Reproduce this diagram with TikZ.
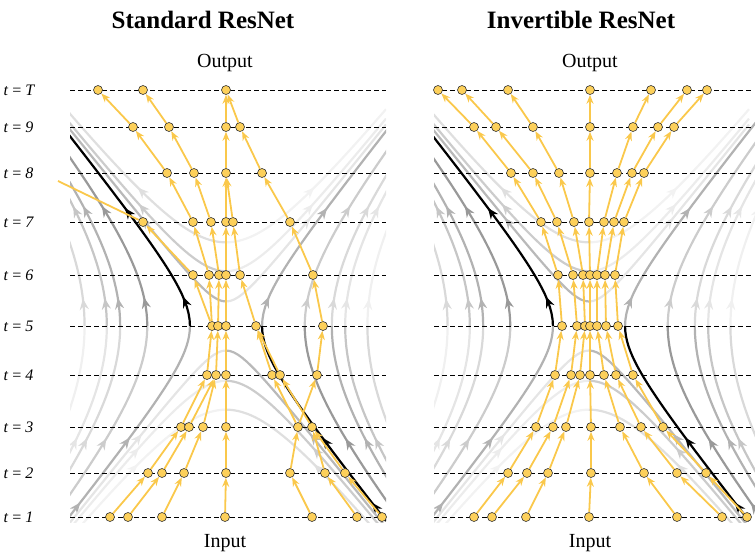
\documentclass[tikz,border=0pt]{standalone}
\usepackage{fontspec}
\setmainfont{Liberation Serif}
\usetikzlibrary{arrows.meta,decorations.markings}
\definecolor{gold}{RGB}{250,200,75}
\definecolor{goldfill}{RGB}{253,208,90}
\begin{document}
\begin{tikzpicture}[
    x=1pt, y=-1pt,
    pt/.style={circle, draw=black!80, fill=goldfill, line width=0.6pt, minimum size=9pt, inner sep=0pt},
    flow/.style={draw=gold, line width=1.8pt, -{Stealth[length=9pt,width=7pt]}},
    row/.style={black, dashed, dash pattern=on 5pt off 3pt, line width=0.7pt},
    stream/.style={draw=#1, line width=2.2pt, postaction={decorate},
        decoration={markings,
            mark=at position 0.55 with {\arrowreversed{Stealth[length=11pt,width=9pt,color=#1]}},
            mark=at position 0.9 with {\arrowreversed{Stealth[length=11pt,width=9pt,color=#1]}}}},
    streamf/.style={draw=#1, line width=2.2pt, postaction={decorate},
        decoration={markings,
            mark=at position 0.5 with {\arrow{Stealth[length=11pt,width=9pt,color=#1]}}}},
    lab/.style={font=\fontsize{16}{16}\selectfont, anchor=west},
    title/.style={font=\fontsize{25}{25}\selectfont\bfseries},
    io/.style={font=\fontsize{20}{20}\selectfont}
]
\useasboundingbox (0,0) rectangle (755,558);

% streamlines, same field in both panels
\foreach \dx/\xa/\xb in {0/70/386, 363/71/392} {
  \begin{scope}[xshift=\dx]
    \clip (\xa,78) rectangle (\xb,522);
    \foreach \c/\col/\fade in {13/black/gray!60, 62/gray!80/gray!40, 112/gray!60/gray!30, 142/gray!45/gray!20, 200/gray!30/gray!12} {
      % left branch: dark above, fading below
      \draw[stream=\col] plot[domain=-25:0, samples=40]
        ({226-10*sqrt(0.64*\x*\x+\c)}, {326+10*\x});
      \draw[stream=\fade] plot[domain=0:19.5, samples=40]
        ({226-10*sqrt(0.64*\x*\x+\c)}, {326+10*\x});
      % right branch: fading above, dark below
      \draw[stream=\fade] plot[domain=-25:0, samples=40]
        ({226+10*sqrt(0.64*\x*\x+\c)}, {326+10*\x});
      \draw[stream=\col] plot[domain=0:19.5, samples=40]
        ({226+10*sqrt(0.64*\x*\x+\c)}, {326+10*\x});
    }
    \foreach \c/\col/\fade in {6/gray!55/gray!20, 30/gray!40/gray!15, 70/gray!25/gray!10} {
      \draw[streamf=\col] plot[domain=0:-16, samples=40] ({226+10*\x}, {326-10*sqrt(\x*\x/0.64+\c)});
      \draw[streamf=\fade] plot[domain=0:16, samples=40] ({226+10*\x}, {326-10*sqrt(\x*\x/0.64+\c)});
      \draw[streamf=\fade] plot[domain=-16:0, samples=40] ({226+10*\x}, {326+10*sqrt(\x*\x/0.64+\c)});
      \draw[streamf=\col] plot[domain=16:0, samples=40] ({226+10*\x}, {326+10*sqrt(\x*\x/0.64+\c)});
    }
  \end{scope}
}

% time rows
\foreach \y/\t in {517/1, 473/2, 427/3, 375/4, 326/5, 275/6, 222/7, 173/8, 127/9, 90/T} {
  \node[lab] at (0,\y) {\textit{t} = \textit{\t}};
  \draw[row] (70,\y) -- (386,\y);
  \draw[row] (434,\y) -- (753,\y);
}

% standard resnet: points per row
\foreach \r/\y/\xs in {1/517/{110,128,162,225,312,357,382}, 2/473/{148,162,184,226,290,325,345},
    3/427/{181,189,203,226,298,312}, 4/375/{207,216,226,272,280,317}, 5/326/{212,218,226,256,323},
    6/275/{193,209,219,226,240,313}, 7/222/{143,193,211,226,233,290}, 8/173/{167,194,226,262},
    9/127/{133,169,226,240}, 10/90/{98,143,226}} {
  \foreach \x [count=\i] in \xs
    \node[pt] (L\r-\i) at (\x,\y) {};
}
\coordinate (Lout) at (58,181);
\foreach \r/\a/\b in {1/1/1,1/2/2,1/3/3,1/4/4,1/5/5,1/6/6,1/7/7,
    2/1/1,2/2/2,2/3/3,2/4/4,2/5/5,2/6/6,2/7/6,
    3/1/1,3/2/2,3/3/2,3/4/3,3/5/4,3/5/6,3/6/5,
    4/1/1,4/2/2,4/3/3,4/4/4,4/5/4,4/6/5,
    5/1/1,5/1/2,5/2/3,5/3/4,5/4/5,5/5/6,
    6/1/1,6/2/2,6/3/3,6/4/4,6/5/5,6/6/6,
    7/2/1,7/3/2,7/4/3,7/5/3,7/6/4,
    8/1/1,8/2/2,8/3/3,8/4/4,
    9/1/1,9/2/2,9/3/3,9/4/3} {
  \pgfmathtruncatemacro\s{\r+1}
  \draw[flow] (L\r-\a) -- (L\s-\b);
}
\draw[draw=gold, line width=1.8pt] (L7-1) -- (Lout);

% invertible resnet: seven paths, no merging
\foreach \r/\y/\xs in {1/517/{474,492,526,589,677,722,747}, 2/473/{508,527,548,591,644,677,706},
    3/427/{536,553,566,591,620,641,663}, 4/375/{555,571,580,590,604,616,633},
    5/326/{562,577,585,590,597,606,618}, 6/275/{558,573,583,590,597,605,615},
    7/222/{541,557,574,589,604,614,624}, 8/173/{511,533,559,590,617,632,644},
    9/127/{474,496,533,590,633,658,674}, 10/90/{438,462,508,590,651,687,707}} {
  \foreach \x [count=\i] in \xs
    \node[pt] (R\r-\i) at (\x,\y) {};
}
\foreach \r in {1,...,9} {
  \pgfmathtruncatemacro\s{\r+1}
  \foreach \i in {1,...,7}
    \draw[flow] (R\r-\i) -- (R\s-\i);
}

% titles
\node[title] at (203,20) {Standard ResNet};
\node[title] at (581,20) {Invertible ResNet};
\node[io] at (225,63) {Output};
\node[io] at (225,543) {Input};
\node[io] at (590,63) {Output};
\node[io] at (590,543) {Input};
\end{tikzpicture}
\end{document}
